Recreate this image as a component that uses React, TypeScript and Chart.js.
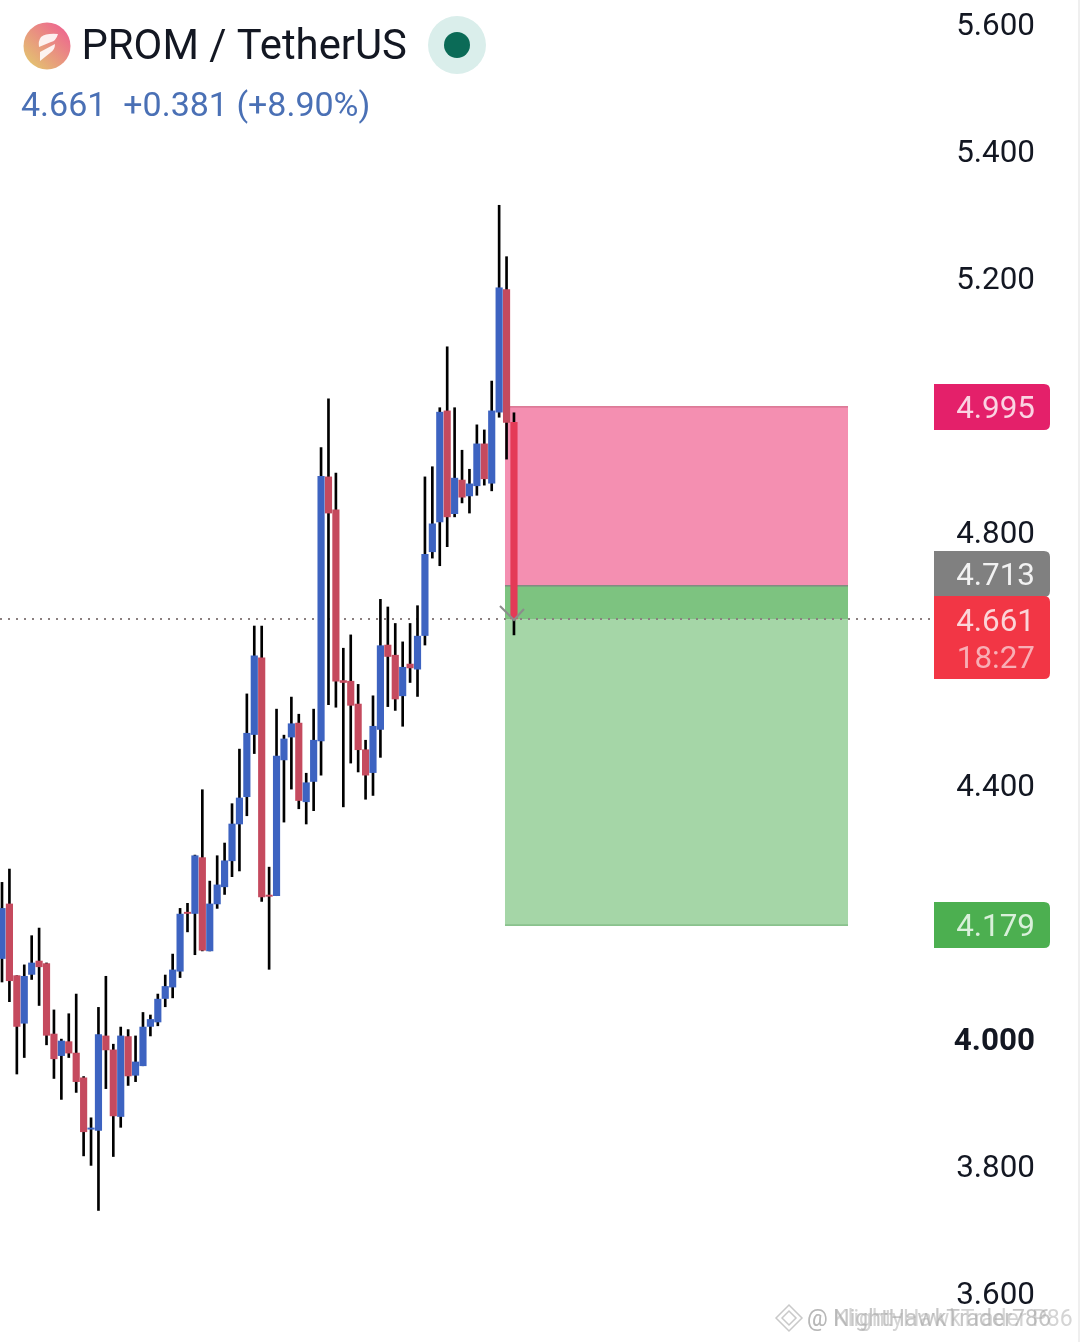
import React, { useEffect, useRef } from "react";
import { Chart, registerables } from "chart.js";

Chart.register(...registerables);

const highs = [4.246,4.267,4.099,4.116,4.162,4.174,4.119,4.045,3.999,4.039,4.070,3.940,3.875,4.049,4.098,3.991,4.018,4.014,4.004,4.041,4.037,4.070,4.100,4.133,4.205,4.213,4.289,4.392,4.248,4.288,4.308,4.370,4.456,4.543,4.650,4.650,4.270,4.519,4.478,4.538,4.511,4.418,4.519,4.931,5.008,4.891,4.615,4.636,4.558,4.470,4.540,4.692,4.680,4.654,4.625,4.654,4.682,4.885,4.901,4.994,5.090,4.994,4.927,4.897,4.967,4.959,5.036,5.313,5.232,4.986];
const lows = [4.089,4.058,3.944,3.970,4.093,4.052,3.990,3.937,3.904,3.970,3.915,3.815,3.800,3.729,3.921,3.814,3.860,3.926,3.932,3.957,4.004,4.020,4.050,4.064,4.096,4.168,4.132,4.138,4.138,4.205,4.227,4.255,4.264,4.351,4.449,4.216,4.109,4.225,4.341,4.393,4.362,4.338,4.359,4.415,4.526,4.522,4.365,4.434,4.420,4.377,4.383,4.443,4.523,4.517,4.492,4.561,4.539,4.620,4.757,4.745,4.775,4.822,4.844,4.828,4.856,4.872,4.863,4.979,4.913,4.636];
const opens = [4.126,4.212,4.099,4.024,4.101,4.122,4.118,4.007,3.973,3.995,3.977,3.938,3.857,3.855,4.004,3.982,3.877,4.003,3.942,3.957,4.019,4.026,4.063,4.081,4.106,4.199,4.197,4.285,4.138,4.212,4.239,4.280,4.338,4.381,4.479,4.600,4.226,4.225,4.439,4.475,4.497,4.373,4.405,4.469,4.885,4.833,4.564,4.563,4.527,4.455,4.419,4.487,4.620,4.604,4.540,4.590,4.582,4.635,4.767,4.814,4.989,4.827,4.880,4.855,4.871,4.937,4.875,4.987,5.180,4.971];
const closes = [4.205,4.091,4.019,4.098,4.119,4.113,4.005,3.968,3.996,3.977,3.932,3.853,3.859,4.006,3.982,3.878,4.004,3.941,3.963,4.018,4.030,4.062,4.082,4.108,4.196,4.197,4.288,4.139,4.212,4.242,4.280,4.338,4.379,4.481,4.603,4.223,4.224,4.445,4.472,4.496,4.375,4.403,4.470,4.886,4.828,4.563,4.561,4.525,4.455,4.415,4.492,4.619,4.602,4.535,4.585,4.584,4.634,4.763,4.811,4.987,4.822,4.883,4.853,4.874,4.937,4.882,4.989,5.183,4.971,4.661];

const tickValues = [5.6, 5.4, 5.2, 4.8, 4.4, 4.0, 3.8, 3.6];
const stopPrice = 4.995;
const entryPrice = 4.713;
const lastPrice = 4.661;
const targetPrice = 4.179;
const boxStartIndex = 67.79;
const boxEndIndex = 114.02;
const titleText = "PROM / TetherUS";
const quoteText = "4.661  +0.381 (+8.90%)";
const countdownText = "18:27";
const watermarks = ["@ NightHawkTrader786", "@ KlightyHawkTrader P86"];

const FONT = "Roboto, sans-serif";
const LABEL_SIZE = 31.4;
const BLUE = "#3D63C1";
const RED = "#C54A5E";
const LAST_RED = "#E43A57";

function badge(ctx: CanvasRenderingContext2D, top: number, h: number, fill: string) {
  const l = 934, r = 1050, rad = 6;
  ctx.fillStyle = fill;
  ctx.beginPath();
  ctx.moveTo(l, top);
  ctx.lineTo(r - rad, top);
  ctx.quadraticCurveTo(r, top, r, top + rad);
  ctx.lineTo(r, top + h - rad);
  ctx.quadraticCurveTo(r, top + h, r - rad, top + h);
  ctx.lineTo(l, top + h);
  ctx.closePath();
  ctx.fill();
}

const positionPlugin = {
  id: "position",
  afterUpdate(chart: any) {
    // tick labels sit a few pixels below their tick position in the reference
    chart.scales.y.getLabelItems(chart.chartArea).forEach((item: any) => {
      item.options.translation = [item.options.translation[0], item.options.translation[1] + 4];
    });
  },
  beforeDatasetsDraw(chart: any) {
    const { ctx, scales } = chart;
    const x = scales.x, y = scales.y;
    const l = x.getPixelForValue(boxStartIndex);
    const r = x.getPixelForValue(boxEndIndex);
    const ys = y.getPixelForValue(stopPrice);
    const ye = y.getPixelForValue(entryPrice);
    const yl = y.getPixelForValue(lastPrice);
    const yt = y.getPixelForValue(targetPrice);
    ctx.save();
    ctx.fillStyle = "#F48FB1";
    ctx.fillRect(l, ys, r - l, ye - ys);
    ctx.fillStyle = "#7DC380";
    ctx.fillRect(l, ye, r - l, yl - ye);
    ctx.fillStyle = "#A5D6A7";
    ctx.fillRect(l, yl, r - l, yt - yl);
    ctx.fillStyle = "#D9708F";
    ctx.fillRect(l, ys - 1, r - l, 1.5);
    ctx.fillStyle = "#7F8C80";
    ctx.fillRect(l, ye - 1, r - l, 1.5);
    ctx.fillStyle = "#7DBB80";
    ctx.fillRect(l, yt - 0.5, r - l, 1.5);
    ctx.strokeStyle = "#8A7F7F";
    ctx.lineWidth = 2;
    ctx.setLineDash([2, 6]);
    ctx.beginPath();
    ctx.moveTo(0, yl);
    ctx.lineTo(932, yl);
    ctx.stroke();
    ctx.restore();
  },
  afterDraw(chart: any) {
    const { ctx, scales } = chart;
    const x = scales.x, y = scales.y;
    const lastX = x.getPixelForValue(closes.length - 1);
    const yl = y.getPixelForValue(lastPrice);
    ctx.save();
    // chevron on the last price
    ctx.strokeStyle = "#8C8C8C";
    ctx.lineWidth = 2;
    ctx.beginPath();
    ctx.moveTo(lastX - 14, yl - 13);
    ctx.lineTo(lastX, yl + 1);
    ctx.lineTo(lastX + 10, yl - 10);
    ctx.stroke();

    // price badges
    ctx.textAlign = "right";
    ctx.textBaseline = "middle";
    ctx.font = `${LABEL_SIZE}px ${FONT}`;
    const ys = y.getPixelForValue(stopPrice);
    badge(ctx, ys - 23, 46, "#E4206A");
    ctx.fillStyle = "#FAD3E2";
    ctx.fillText(stopPrice.toFixed(3), 1035, ys + 3.5);
    const ye = y.getPixelForValue(entryPrice);
    badge(ctx, ye - 35, 46, "#808080");
    ctx.fillStyle = "#F2F2F2";
    ctx.fillText(entryPrice.toFixed(3), 1035, ye - 9);
    badge(ctx, yl - 23, 83, "#F23645");
    ctx.fillStyle = "#FBD5D8";
    ctx.fillText(lastPrice.toFixed(3), 1035, yl + 4);
    ctx.fillStyle = "#F8AEB5";
    ctx.fillText(countdownText, 1035, yl + 41);
    const yt = y.getPixelForValue(targetPrice);
    badge(ctx, yt - 23, 46, "#4CAF50");
    ctx.fillStyle = "#D9F0DA";
    ctx.fillText(targetPrice.toFixed(3), 1035, yt + 3);

    // header
    const grad = ctx.createLinearGradient(28, 66, 66, 26);
    grad.addColorStop(0, "#E3C56F");
    grad.addColorStop(1, "#EE6390");
    ctx.fillStyle = grad;
    ctx.beginPath();
    ctx.arc(47, 46, 23.5, 0, Math.PI * 2);
    ctx.fill();
    ctx.fillStyle = "rgba(255,255,255,0.88)";
    ctx.beginPath();
    ctx.moveTo(41, 37);
    ctx.quadraticCurveTo(46, 33, 58, 34);
    ctx.quadraticCurveTo(56, 41, 51, 42);
    ctx.lineTo(39, 47);
    ctx.quadraticCurveTo(38, 41, 41, 37);
    ctx.closePath();
    ctx.moveTo(40, 61);
    ctx.lineTo(40, 52);
    ctx.lineTo(55, 44);
    ctx.quadraticCurveTo(55, 50, 50, 53);
    ctx.closePath();
    ctx.fill();

    ctx.textAlign = "left";
    ctx.textBaseline = "alphabetic";
    ctx.fillStyle = "#131722";
    ctx.font = `41.8px ${FONT}`;
    ctx.fillText(titleText, 81.5, 59);
    ctx.fillStyle = "#DAEEEB";
    ctx.beginPath();
    ctx.arc(457, 45, 29, 0, Math.PI * 2);
    ctx.fill();
    ctx.fillStyle = "#0B6B57";
    ctx.beginPath();
    ctx.arc(457, 45, 13, 0, Math.PI * 2);
    ctx.fill();
    ctx.fillStyle = "#4A70B5";
    ctx.font = `34px ${FONT}`;
    ctx.fillText(quoteText, 21, 116);

    // watermark
    ctx.strokeStyle = "#C9C9C9";
    ctx.lineWidth = 1.5;
    [[789, 1318, 13], [789, 1318, 7]].forEach(([cx, cy, s]) => {
      ctx.beginPath();
      ctx.moveTo(cx - s, cy);
      ctx.lineTo(cx, cy - s);
      ctx.lineTo(cx + s, cy);
      ctx.lineTo(cx, cy + s);
      ctx.closePath();
      ctx.stroke();
    });
    ctx.font = `23px ${FONT}`;
    ctx.fillStyle = "rgba(160,160,160,0.6)";
    ctx.fillText(watermarks[0], 807, 1326);
    ctx.fillStyle = "rgba(170,170,170,0.5)";
    ctx.fillText(watermarks[1], 807, 1326);

    // screen edge
    ctx.fillStyle = "#EFEFEF";
    ctx.fillRect(1078, 0, 2, 1342);
    ctx.restore();
  },
};

export default function App() {
  const ref = useRef<HTMLCanvasElement>(null);
  useEffect(() => {
    document.body.style.margin = "0";
    document.body.style.background = "#FFFFFF";
    const chart = new Chart(ref.current as HTMLCanvasElement, {
      type: "bar",
      data: {
        datasets: [
          {
            label: "Body",
            data: closes.map((c, i) => ({ x: i, y: [opens[i], c] })),
            backgroundColor: closes.map((c, i) =>
              i === closes.length - 1 ? LAST_RED : c >= opens[i] ? BLUE : RED
            ),
            barThickness: 6.5,
            order: 1,
            grouped: false,
          },
          {
            label: "Wick",
            data: highs.map((h, i) => ({ x: i, y: [lows[i], h] })),
            backgroundColor: "#000000",
            barThickness: 2,
            order: 2,
            grouped: false,
          },
        ] as any,
      },
      options: {
        responsive: false,
        animation: false,
        devicePixelRatio: 1,
        parsing: { xAxisKey: "x", yAxisKey: "y" } as any,
        layout: { autoPadding: false, padding: { top: 0, left: 0, bottom: 0, right: 45 } },
        plugins: { legend: { display: false }, tooltip: { enabled: false }, title: { display: false } },
        scales: {
          x: { type: "linear", display: false, min: -0.27, max: 125.07, offset: false, grid: { display: false } },
          y: {
            type: "linear",
            position: "right",
            min: 3.5217,
            max: 5.6365,
            grid: { display: false, drawTicks: false },
            border: { display: false },
            afterFit: (s: any) => {
              s.width = 105;
              s.paddingTop = 0;
              s.paddingBottom = 0;
            },
            afterBuildTicks: (s: any) => { s.ticks = tickValues.map((value) => ({ value })); },
            ticks: {
              autoSkip: false,
              crossAlign: "far",
              color: "#131722",
              padding: 0,
              callback: (v: any) => Number(v).toFixed(3),
              font: (c: any) =>
                c.tick && c.tick.value === 4
                  ? { family: FONT, size: LABEL_SIZE, weight: "bold" }
                  : { family: FONT, size: LABEL_SIZE, weight: "normal" },
            },
          },
        },
      } as any,
      plugins: [positionPlugin],
    });
    return () => chart.destroy();
  }, []);
  return (
    <canvas
      ref={ref}
      width={1080}
      height={1342}
      style={{ display: "block", position: "absolute", left: 0, top: 0 }}
    />
  );
}
